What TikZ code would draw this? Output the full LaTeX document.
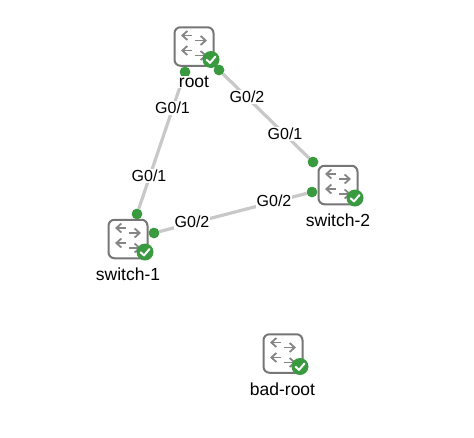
\documentclass[tikz,border=0pt]{standalone}
\usepackage{fontspec}
\setmainfont{Liberation Sans}
\usetikzlibrary{arrows.meta,calc}
\definecolor{boxgray}{HTML}{767676}
\definecolor{arrgray}{HTML}{858585}
\definecolor{okgreen}{HTML}{3A9A40}
\definecolor{linkgray}{HTML}{C8C8C8}
\tikzset{
  x=1pt,y=-1pt,
  devbox/.style={draw=boxgray,line width=2pt,rounded corners=6pt,minimum width=39pt,minimum height=38.5pt,inner sep=0pt,fill=white},
  badge/.style={circle,fill=okgreen,minimum size=17pt,inner sep=0pt},
  portdot/.style={circle,fill=okgreen,minimum size=10.5pt,inner sep=0pt},
  link/.style={draw=linkgray,line width=3.2pt},
  linklabel/.style={fill=white,inner sep=1pt,font=\fontsize{16}{18}\selectfont},
  devlabel/.style={inner sep=0pt,font=\fontsize{17.5}{19}\selectfont},
  iconarrow/.style={draw=arrgray,line width=1.8pt,-{Straight Barb[length=5pt,width=9pt,line width=1.8pt]}},
  tick/.style={draw=white,line width=2pt,line cap=round,line join=round}
}
\newcommand{\device}[3]{% name, x, y
  \node[devbox] (#1) at (#2,#3) {};
  \draw[iconarrow] ($(#1)+(-2,-11)$) -- ($(#1)+(-13,-11)$);
  \draw[iconarrow] ($(#1)+(1,-6)$) -- ($(#1)+(13,-6)$);
  \draw[iconarrow] ($(#1)+(-2,4)$) -- ($(#1)+(-13,4)$);
  \draw[iconarrow] ($(#1)+(1,9)$) -- ($(#1)+(13,9)$);
  \node[badge] (#1-ok) at ($(#1)+(17,13)$) {};
  \draw[tick] ($(#1-ok)+(-4.4,0.3)$) -- ($(#1-ok)+(-1,3.4)$) -- ($(#1-ok)+(4.5,-3)$);
}
\begin{document}
\begin{tikzpicture}
\useasboundingbox (0,0) rectangle (474,437);
\node[portdot] (p1) at (185,72) {};
\node[portdot] (p2) at (219,70) {};
\node[portdot] (p3) at (137,214) {};
\node[portdot] (p4) at (154,233) {};
\node[portdot] (p5) at (313,162) {};
\node[portdot] (p6) at (312,192) {};
\draw[link] (p1) -- (p3);
\draw[link] (p2) -- (p5);
\draw[link] (p4) -- (p6);
\device{root}{194}{46.5}
\device{swa}{128}{239}
\device{swb}{338}{185}
\device{bad}{283}{353.5}
\node[portdot] at (p1) {};
\node[portdot] at (p2) {};
\node[portdot] at (p3) {};
\node[portdot] at (p4) {};
\node[portdot] at (p5) {};
\node[portdot] at (p6) {};
\node[devlabel,fill=white,inner sep=0.5pt] (lroot) at (194,82) {root};
\node[devlabel] (lswa) at (128,274.5) {switch-1};
\node[devlabel] (lswb) at (338,220.5) {switch-2};
\node[devlabel] (lbad) at (282.5,389) {bad-root};
\node[linklabel] (e1) at (172.5,108) {G0/1};
\node[linklabel] (e2) at (149,176) {G0/1};
\node[linklabel] (e3) at (247,97) {G0/2};
\node[linklabel] (e4) at (285,134) {G0/1};
\node[linklabel] (e5) at (192,222) {G0/2};
\node[linklabel] (e6) at (274,201) {G0/2};
\end{tikzpicture}
\end{document}
